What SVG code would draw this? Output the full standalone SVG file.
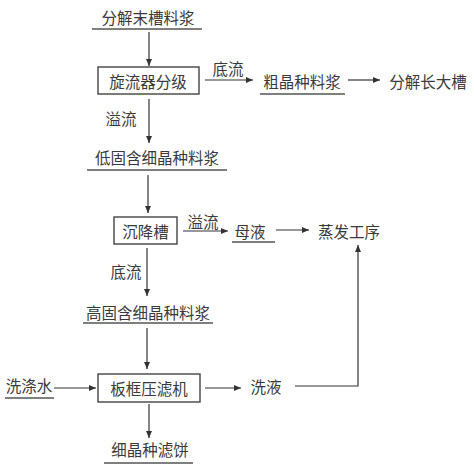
<svg xmlns="http://www.w3.org/2000/svg" width="474" height="469" viewBox="0 0 474 469">
<defs>
<marker id="ah" markerWidth="8" markerHeight="6" refX="7" refY="3" orient="auto" markerUnits="userSpaceOnUse">
<path d="M0,0 L7,3 L0,6 Z" fill="#333"/>
</marker>
</defs>
<style>
text{font-family:"Noto Sans CJK SC","Noto Sans",sans-serif;font-size:15.5px;fill:#3a3a3a;dominant-baseline:central}
.c{text-anchor:middle}
.box{fill:#fff;stroke:#444;stroke-width:1.4}
.ul{stroke:#555;stroke-width:1.3}
.ln{stroke:#333;stroke-width:1.2;fill:none}
.ar{stroke:#333;stroke-width:1.2;fill:none;marker-end:url(#ah)}
</style>
<rect width="474" height="469" fill="#fff"/>
<g id="n1"><text x="148" y="17" class="c">分解末槽料浆</text><line class="ul" x1="92" y1="29" x2="202" y2="29"/></g>
<g id="n2"><rect class="box" x="98" y="67" width="101" height="27"/><text x="148" y="81" class="c">旋流器分级</text></g>
<g id="n3"><text x="302" y="81" class="c">粗晶种料浆</text><line class="ul" x1="260" y1="94" x2="345" y2="94"/></g>
<g id="n4"><text x="428" y="81" class="c">分解长大槽</text></g>
<g id="n5"><text x="157" y="157" class="c">低固含细晶种料浆</text><line class="ul" x1="87" y1="170" x2="227" y2="170"/></g>
<g id="n6"><rect class="box" x="114" y="217" width="63" height="27"/><text x="145.5" y="231" class="c">沉降槽</text></g>
<g id="n7"><text x="250" y="231" class="c">母液</text><line class="ul" x1="232" y1="242" x2="275" y2="242"/></g>
<g id="n8"><text x="349" y="231" class="c">蒸发工序</text></g>
<g id="n9"><text x="148" y="312" class="c">高固含细晶种料浆</text><line class="ul" x1="83" y1="323" x2="213" y2="323"/></g>
<g id="n10"><text x="29" y="385" class="c">洗涤水</text><line class="ul" x1="5" y1="398" x2="54" y2="398"/></g>
<g id="n11"><rect class="box" x="98" y="374" width="102" height="28"/><text x="149" y="388" class="c">板框压滤机</text></g>
<g id="n12"><text x="266" y="386" class="c">洗液</text></g>
<g id="n13"><text x="150" y="449" class="c">细晶种滤饼</text><line class="ul" x1="104" y1="463" x2="193" y2="463"/></g>
<g id="connectors">
<line class="ar" x1="149" y1="32" x2="149" y2="66"/>
<line class="ar" x1="205" y1="80" x2="253" y2="80"/>
<text x="228" y="68" class="c">底流</text>
<line class="ar" x1="348" y1="80" x2="380" y2="80"/>
<line class="ar" x1="149" y1="99" x2="149" y2="143"/>
<text x="121" y="118" class="c">溢流</text>
<line class="ar" x1="148" y1="175" x2="148" y2="213"/>
<line class="ar" x1="183" y1="231" x2="228" y2="231"/>
<text x="203" y="221" class="c">溢流</text>
<line class="ar" x1="276" y1="230" x2="309" y2="230"/>
<line class="ar" x1="147" y1="248" x2="147" y2="296"/>
<text x="126" y="271" class="c">底流</text>
<line class="ar" x1="147" y1="328" x2="147" y2="369"/>
<line class="ar" x1="54" y1="388" x2="96" y2="388"/>
<line class="ar" x1="205" y1="388" x2="241" y2="388"/>
<path class="ar" d="M295,386 L358,386 L358,245"/>
<line class="ar" x1="149" y1="404" x2="149" y2="438"/>
</g>
</svg>
